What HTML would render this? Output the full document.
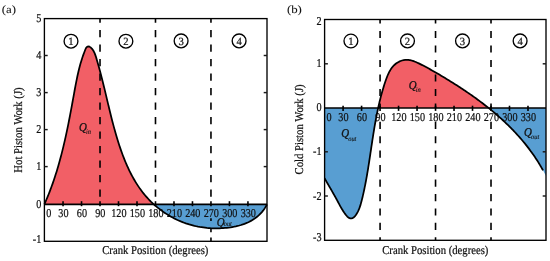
<!DOCTYPE html>
<html><head><meta charset="utf-8"><title>Piston work vs crank position</title>
<style>
html,body{margin:0;padding:0;background:#fff}
svg{display:block}
text{font-family:"Liberation Serif","Times New Roman",serif;fill:#111;stroke:#111;stroke-width:0.22px;text-rendering:geometricPrecision}
.ttl{stroke-width:0.06px}
.q{font-style:italic;stroke-width:0.32px}
.qs{font-style:italic;stroke-width:0.12px}
</style></head><body>
<svg width="550" height="261" viewBox="0 0 550 261">
<rect width="550" height="261" fill="#fff"/>
<defs><clipPath id="upa"><rect x="44.4" y="0" width="222.60" height="204.3"/></clipPath><clipPath id="dna"><rect x="44.4" y="204.3" width="222.60" height="56.70"/></clipPath></defs>
<polygon points="44.40,204.3 44.40,204.30 45.14,202.63 45.86,200.96 46.57,199.28 47.27,197.61 47.96,195.93 48.64,194.24 49.30,192.56 49.95,190.87 50.59,189.18 51.22,187.49 51.84,185.79 52.45,184.09 53.05,182.39 53.63,180.69 54.21,178.98 54.78,177.27 55.33,175.56 55.88,173.85 56.42,172.14 56.95,170.42 57.46,168.70 57.98,166.98 58.48,165.25 58.97,163.53 59.46,161.80 59.93,160.07 60.40,158.34 60.87,156.60 61.32,154.87 61.77,153.13 62.21,151.39 62.64,149.64 63.07,147.90 63.49,146.15 63.90,144.41 64.31,142.66 64.72,140.91 65.11,139.15 65.51,137.40 65.89,135.64 66.27,133.88 66.65,132.13 67.02,130.36 67.39,128.60 67.75,126.84 68.11,125.07 68.47,123.30 68.82,121.54 69.17,119.77 69.52,117.99 69.86,116.22 70.20,114.45 70.54,112.67 70.87,110.90 71.21,109.12 71.54,107.34 71.87,105.56 72.20,103.78 72.52,102.00 72.85,100.21 73.17,98.43 73.50,96.64 73.82,94.86 74.14,93.07 74.47,91.28 74.79,89.50 75.12,87.71 75.46,85.92 75.79,84.14 76.14,82.36 76.49,80.58 76.85,78.81 77.22,77.04 77.60,75.28 78.00,73.52 78.40,71.76 78.82,70.01 79.25,68.27 79.71,66.54 80.17,64.82 80.66,63.10 81.16,61.39 81.69,59.70 82.24,58.01 82.81,56.32 83.40,54.63 84.02,52.94 84.67,51.22 85.34,49.49 86.09,47.79 87.36,46.55 89.08,46.40 90.59,47.38 91.87,48.64 92.95,50.05 93.85,51.57 94.62,53.19 95.28,54.88 95.87,56.61 96.41,58.37 96.93,60.13 97.45,61.89 97.96,63.65 98.46,65.41 98.95,67.17 99.43,68.92 99.90,70.68 100.37,72.43 100.83,74.18 101.28,75.93 101.73,77.68 102.18,79.43 102.61,81.18 103.05,82.93 103.48,84.68 103.90,86.42 104.33,88.16 104.75,89.91 105.16,91.65 105.58,93.39 106.00,95.13 106.41,96.87 106.82,98.61 107.23,100.35 107.65,102.09 108.06,103.83 108.48,105.57 108.89,107.30 109.31,109.04 109.73,110.78 110.16,112.51 110.59,114.25 111.02,115.98 111.45,117.71 111.89,119.45 112.34,121.18 112.79,122.91 113.25,124.64 113.71,126.38 114.18,128.11 114.66,129.84 115.14,131.57 115.63,133.30 116.14,135.03 116.65,136.77 117.17,138.50 117.70,140.23 118.24,141.96 118.79,143.69 119.35,145.42 119.92,147.14 120.51,148.87 121.11,150.59 121.72,152.30 122.34,154.02 122.98,155.72 123.64,157.43 124.31,159.12 124.99,160.81 125.69,162.49 126.40,164.16 127.14,165.83 127.89,167.48 128.65,169.13 129.44,170.76 130.24,172.39 131.06,174.00 131.91,175.60 132.77,177.18 133.65,178.76 134.55,180.31 135.48,181.86 136.42,183.39 137.39,184.90 138.38,186.39 139.39,187.87 140.43,189.33 141.49,190.77 142.58,192.20 143.69,193.60 144.82,194.98 145.98,196.34 147.17,197.68 148.39,199.00 149.63,200.30 150.89,201.57 152.19,202.82 153.50,204.04 154.85,205.24 156.21,206.42 157.60,207.56 159.02,208.69 160.45,209.78 161.90,210.85 163.38,211.89 164.88,212.91 166.39,213.89 167.92,214.85 169.48,215.78 171.05,216.68 172.63,217.54 174.23,218.38 175.85,219.18 177.48,219.96 179.13,220.70 180.79,221.41 182.46,222.08 184.14,222.72 185.84,223.33 187.55,223.90 189.26,224.44 190.99,224.94 192.73,225.41 194.47,225.85 196.22,226.24 197.98,226.61 199.75,226.94 201.53,227.23 203.31,227.49 205.09,227.71 206.88,227.91 208.68,228.06 210.48,228.19 212.29,228.28 214.10,228.33 215.91,228.36 217.72,228.34 219.54,228.30 221.36,228.22 223.18,228.11 225.00,227.97 226.82,227.79 228.64,227.58 230.45,227.33 232.25,227.04 234.05,226.72 235.83,226.35 237.60,225.94 239.35,225.48 241.08,224.98 242.78,224.42 244.47,223.82 246.13,223.17 247.75,222.46 249.35,221.70 250.91,220.88 252.44,220.00 253.92,219.06 255.37,218.06 256.77,217.00 258.12,215.87 259.43,214.68 260.68,213.41 261.88,212.08 263.03,210.68 264.12,209.20 265.14,207.64 266.10,206.01 267.00,204.30 267.00,204.3" fill="#f25f66" clip-path="url(#upa)"/>
<polygon points="44.40,204.3 44.40,204.30 45.14,202.63 45.86,200.96 46.57,199.28 47.27,197.61 47.96,195.93 48.64,194.24 49.30,192.56 49.95,190.87 50.59,189.18 51.22,187.49 51.84,185.79 52.45,184.09 53.05,182.39 53.63,180.69 54.21,178.98 54.78,177.27 55.33,175.56 55.88,173.85 56.42,172.14 56.95,170.42 57.46,168.70 57.98,166.98 58.48,165.25 58.97,163.53 59.46,161.80 59.93,160.07 60.40,158.34 60.87,156.60 61.32,154.87 61.77,153.13 62.21,151.39 62.64,149.64 63.07,147.90 63.49,146.15 63.90,144.41 64.31,142.66 64.72,140.91 65.11,139.15 65.51,137.40 65.89,135.64 66.27,133.88 66.65,132.13 67.02,130.36 67.39,128.60 67.75,126.84 68.11,125.07 68.47,123.30 68.82,121.54 69.17,119.77 69.52,117.99 69.86,116.22 70.20,114.45 70.54,112.67 70.87,110.90 71.21,109.12 71.54,107.34 71.87,105.56 72.20,103.78 72.52,102.00 72.85,100.21 73.17,98.43 73.50,96.64 73.82,94.86 74.14,93.07 74.47,91.28 74.79,89.50 75.12,87.71 75.46,85.92 75.79,84.14 76.14,82.36 76.49,80.58 76.85,78.81 77.22,77.04 77.60,75.28 78.00,73.52 78.40,71.76 78.82,70.01 79.25,68.27 79.71,66.54 80.17,64.82 80.66,63.10 81.16,61.39 81.69,59.70 82.24,58.01 82.81,56.32 83.40,54.63 84.02,52.94 84.67,51.22 85.34,49.49 86.09,47.79 87.36,46.55 89.08,46.40 90.59,47.38 91.87,48.64 92.95,50.05 93.85,51.57 94.62,53.19 95.28,54.88 95.87,56.61 96.41,58.37 96.93,60.13 97.45,61.89 97.96,63.65 98.46,65.41 98.95,67.17 99.43,68.92 99.90,70.68 100.37,72.43 100.83,74.18 101.28,75.93 101.73,77.68 102.18,79.43 102.61,81.18 103.05,82.93 103.48,84.68 103.90,86.42 104.33,88.16 104.75,89.91 105.16,91.65 105.58,93.39 106.00,95.13 106.41,96.87 106.82,98.61 107.23,100.35 107.65,102.09 108.06,103.83 108.48,105.57 108.89,107.30 109.31,109.04 109.73,110.78 110.16,112.51 110.59,114.25 111.02,115.98 111.45,117.71 111.89,119.45 112.34,121.18 112.79,122.91 113.25,124.64 113.71,126.38 114.18,128.11 114.66,129.84 115.14,131.57 115.63,133.30 116.14,135.03 116.65,136.77 117.17,138.50 117.70,140.23 118.24,141.96 118.79,143.69 119.35,145.42 119.92,147.14 120.51,148.87 121.11,150.59 121.72,152.30 122.34,154.02 122.98,155.72 123.64,157.43 124.31,159.12 124.99,160.81 125.69,162.49 126.40,164.16 127.14,165.83 127.89,167.48 128.65,169.13 129.44,170.76 130.24,172.39 131.06,174.00 131.91,175.60 132.77,177.18 133.65,178.76 134.55,180.31 135.48,181.86 136.42,183.39 137.39,184.90 138.38,186.39 139.39,187.87 140.43,189.33 141.49,190.77 142.58,192.20 143.69,193.60 144.82,194.98 145.98,196.34 147.17,197.68 148.39,199.00 149.63,200.30 150.89,201.57 152.19,202.82 153.50,204.04 154.85,205.24 156.21,206.42 157.60,207.56 159.02,208.69 160.45,209.78 161.90,210.85 163.38,211.89 164.88,212.91 166.39,213.89 167.92,214.85 169.48,215.78 171.05,216.68 172.63,217.54 174.23,218.38 175.85,219.18 177.48,219.96 179.13,220.70 180.79,221.41 182.46,222.08 184.14,222.72 185.84,223.33 187.55,223.90 189.26,224.44 190.99,224.94 192.73,225.41 194.47,225.85 196.22,226.24 197.98,226.61 199.75,226.94 201.53,227.23 203.31,227.49 205.09,227.71 206.88,227.91 208.68,228.06 210.48,228.19 212.29,228.28 214.10,228.33 215.91,228.36 217.72,228.34 219.54,228.30 221.36,228.22 223.18,228.11 225.00,227.97 226.82,227.79 228.64,227.58 230.45,227.33 232.25,227.04 234.05,226.72 235.83,226.35 237.60,225.94 239.35,225.48 241.08,224.98 242.78,224.42 244.47,223.82 246.13,223.17 247.75,222.46 249.35,221.70 250.91,220.88 252.44,220.00 253.92,219.06 255.37,218.06 256.77,217.00 258.12,215.87 259.43,214.68 260.68,213.41 261.88,212.08 263.03,210.68 264.12,209.20 265.14,207.64 266.10,206.01 267.00,204.30 267.00,204.3" fill="#589ed2" clip-path="url(#dna)"/>
<line x1="100.02" y1="18.6" x2="100.02" y2="204.3" stroke="#000" stroke-width="1.6" stroke-dasharray="7.2 7.3" stroke-dashoffset="3.0"/>
<line x1="155.49" y1="18.6" x2="155.49" y2="204.3" stroke="#000" stroke-width="1.6" stroke-dasharray="7.2 7.3" stroke-dashoffset="3.0"/>
<line x1="210.96" y1="18.6" x2="210.96" y2="204.3" stroke="#000" stroke-width="1.6" stroke-dasharray="7.2 7.3" stroke-dashoffset="3.0"/>
<line x1="210.96" y1="218.3" x2="210.96" y2="221.1" stroke="#000" stroke-width="1.6"/>
<line x1="210.96" y1="228.3" x2="210.96" y2="232.2" stroke="#000" stroke-width="1.6"/>
<line x1="210.96" y1="237.4" x2="210.96" y2="241.3" stroke="#000" stroke-width="1.6"/>
<line x1="44.4" y1="204.3" x2="267.0" y2="204.3" stroke="#000" stroke-width="1.7"/>
<text transform="translate(46.30,216.90) scale(0.85,1)" font-size="12.0">0</text>
<line x1="63.04" y1="206.20" x2="63.04" y2="201.20" stroke="#000" stroke-width="1.6"/>
<text transform="translate(63.39,216.90) scale(0.85,1)" font-size="12.0" text-anchor="middle">30</text>
<line x1="81.53" y1="206.20" x2="81.53" y2="201.20" stroke="#000" stroke-width="1.6"/>
<text transform="translate(81.88,216.90) scale(0.85,1)" font-size="12.0" text-anchor="middle">60</text>
<line x1="100.02" y1="206.20" x2="100.02" y2="201.20" stroke="#000" stroke-width="1.6"/>
<text transform="translate(100.37,216.90) scale(0.85,1)" font-size="12.0" text-anchor="middle">90</text>
<line x1="118.51" y1="206.20" x2="118.51" y2="201.20" stroke="#000" stroke-width="1.6"/>
<text transform="translate(118.86,216.90) scale(0.85,1)" font-size="12.0" text-anchor="middle">120</text>
<line x1="137.00" y1="206.20" x2="137.00" y2="201.20" stroke="#000" stroke-width="1.6"/>
<text transform="translate(137.35,216.90) scale(0.85,1)" font-size="12.0" text-anchor="middle">150</text>
<line x1="155.49" y1="206.20" x2="155.49" y2="201.20" stroke="#000" stroke-width="1.6"/>
<text transform="translate(155.84,216.90) scale(0.85,1)" font-size="12.0" text-anchor="middle">180</text>
<line x1="173.98" y1="206.20" x2="173.98" y2="201.20" stroke="#000" stroke-width="1.6"/>
<text transform="translate(174.33,216.90) scale(0.85,1)" font-size="12.0" text-anchor="middle">210</text>
<line x1="192.47" y1="206.20" x2="192.47" y2="201.20" stroke="#000" stroke-width="1.6"/>
<text transform="translate(192.82,216.90) scale(0.85,1)" font-size="12.0" text-anchor="middle">240</text>
<line x1="210.96" y1="206.20" x2="210.96" y2="201.20" stroke="#000" stroke-width="1.6"/>
<text transform="translate(211.31,216.90) scale(0.85,1)" font-size="12.0" text-anchor="middle">270</text>
<line x1="229.45" y1="206.20" x2="229.45" y2="201.20" stroke="#000" stroke-width="1.6"/>
<text transform="translate(229.80,216.90) scale(0.85,1)" font-size="12.0" text-anchor="middle">300</text>
<line x1="247.94" y1="206.20" x2="247.94" y2="201.20" stroke="#000" stroke-width="1.6"/>
<text transform="translate(248.29,216.90) scale(0.85,1)" font-size="12.0" text-anchor="middle">330</text>
<polyline points="44.40,204.30 45.14,202.63 45.86,200.96 46.57,199.28 47.27,197.61 47.96,195.93 48.64,194.24 49.30,192.56 49.95,190.87 50.59,189.18 51.22,187.49 51.84,185.79 52.45,184.09 53.05,182.39 53.63,180.69 54.21,178.98 54.78,177.27 55.33,175.56 55.88,173.85 56.42,172.14 56.95,170.42 57.46,168.70 57.98,166.98 58.48,165.25 58.97,163.53 59.46,161.80 59.93,160.07 60.40,158.34 60.87,156.60 61.32,154.87 61.77,153.13 62.21,151.39 62.64,149.64 63.07,147.90 63.49,146.15 63.90,144.41 64.31,142.66 64.72,140.91 65.11,139.15 65.51,137.40 65.89,135.64 66.27,133.88 66.65,132.13 67.02,130.36 67.39,128.60 67.75,126.84 68.11,125.07 68.47,123.30 68.82,121.54 69.17,119.77 69.52,117.99 69.86,116.22 70.20,114.45 70.54,112.67 70.87,110.90 71.21,109.12 71.54,107.34 71.87,105.56 72.20,103.78 72.52,102.00 72.85,100.21 73.17,98.43 73.50,96.64 73.82,94.86 74.14,93.07 74.47,91.28 74.79,89.50 75.12,87.71 75.46,85.92 75.79,84.14 76.14,82.36 76.49,80.58 76.85,78.81 77.22,77.04 77.60,75.28 78.00,73.52 78.40,71.76 78.82,70.01 79.25,68.27 79.71,66.54 80.17,64.82 80.66,63.10 81.16,61.39 81.69,59.70 82.24,58.01 82.81,56.32 83.40,54.63 84.02,52.94 84.67,51.22 85.34,49.49 86.09,47.79 87.36,46.55 89.08,46.40 90.59,47.38 91.87,48.64 92.95,50.05 93.85,51.57 94.62,53.19 95.28,54.88 95.87,56.61 96.41,58.37 96.93,60.13 97.45,61.89 97.96,63.65 98.46,65.41 98.95,67.17 99.43,68.92 99.90,70.68 100.37,72.43 100.83,74.18 101.28,75.93 101.73,77.68 102.18,79.43 102.61,81.18 103.05,82.93 103.48,84.68 103.90,86.42 104.33,88.16 104.75,89.91 105.16,91.65 105.58,93.39 106.00,95.13 106.41,96.87 106.82,98.61 107.23,100.35 107.65,102.09 108.06,103.83 108.48,105.57 108.89,107.30 109.31,109.04 109.73,110.78 110.16,112.51 110.59,114.25 111.02,115.98 111.45,117.71 111.89,119.45 112.34,121.18 112.79,122.91 113.25,124.64 113.71,126.38 114.18,128.11 114.66,129.84 115.14,131.57 115.63,133.30 116.14,135.03 116.65,136.77 117.17,138.50 117.70,140.23 118.24,141.96 118.79,143.69 119.35,145.42 119.92,147.14 120.51,148.87 121.11,150.59 121.72,152.30 122.34,154.02 122.98,155.72 123.64,157.43 124.31,159.12 124.99,160.81 125.69,162.49 126.40,164.16 127.14,165.83 127.89,167.48 128.65,169.13 129.44,170.76 130.24,172.39 131.06,174.00 131.91,175.60 132.77,177.18 133.65,178.76 134.55,180.31 135.48,181.86 136.42,183.39 137.39,184.90 138.38,186.39 139.39,187.87 140.43,189.33 141.49,190.77 142.58,192.20 143.69,193.60 144.82,194.98 145.98,196.34 147.17,197.68 148.39,199.00 149.63,200.30 150.89,201.57 152.19,202.82 153.50,204.04 154.85,205.24 156.21,206.42 157.60,207.56 159.02,208.69 160.45,209.78 161.90,210.85 163.38,211.89 164.88,212.91 166.39,213.89 167.92,214.85 169.48,215.78 171.05,216.68 172.63,217.54 174.23,218.38 175.85,219.18 177.48,219.96 179.13,220.70 180.79,221.41 182.46,222.08 184.14,222.72 185.84,223.33 187.55,223.90 189.26,224.44 190.99,224.94 192.73,225.41 194.47,225.85 196.22,226.24 197.98,226.61 199.75,226.94 201.53,227.23 203.31,227.49 205.09,227.71 206.88,227.91 208.68,228.06 210.48,228.19 212.29,228.28 214.10,228.33 215.91,228.36 217.72,228.34 219.54,228.30 221.36,228.22 223.18,228.11 225.00,227.97 226.82,227.79 228.64,227.58 230.45,227.33 232.25,227.04 234.05,226.72 235.83,226.35 237.60,225.94 239.35,225.48 241.08,224.98 242.78,224.42 244.47,223.82 246.13,223.17 247.75,222.46 249.35,221.70 250.91,220.88 252.44,220.00 253.92,219.06 255.37,218.06 256.77,217.00 258.12,215.87 259.43,214.68 260.68,213.41 261.88,212.08 263.03,210.68 264.12,209.20 265.14,207.64 266.10,206.01 267.00,204.30" fill="none" stroke="#000" stroke-width="1.75" stroke-linejoin="round"/>
<rect x="44.4" y="18.6" width="222.60" height="222.70" fill="none" stroke="#000" stroke-width="1.35"/>
<text transform="translate(41.30,21.55) scale(0.85,1)" font-size="12.0" text-anchor="end">5</text>
<line x1="44.4" y1="55.5" x2="47.70" y2="55.5" stroke="#1a1a1a" stroke-width="1.45"/>
<line x1="267.0" y1="55.5" x2="263.70" y2="55.5" stroke="#1a1a1a" stroke-width="1.45"/>
<text transform="translate(41.30,59.05) scale(0.85,1)" font-size="12.0" text-anchor="end">4</text>
<line x1="44.4" y1="92.6" x2="47.70" y2="92.6" stroke="#1a1a1a" stroke-width="1.45"/>
<line x1="267.0" y1="92.6" x2="263.70" y2="92.6" stroke="#1a1a1a" stroke-width="1.45"/>
<text transform="translate(41.30,96.15) scale(0.85,1)" font-size="12.0" text-anchor="end">3</text>
<line x1="44.4" y1="129.6" x2="47.70" y2="129.6" stroke="#1a1a1a" stroke-width="1.45"/>
<line x1="267.0" y1="129.6" x2="263.70" y2="129.6" stroke="#1a1a1a" stroke-width="1.45"/>
<text transform="translate(41.30,133.15) scale(0.85,1)" font-size="12.0" text-anchor="end">2</text>
<line x1="44.4" y1="166.6" x2="47.70" y2="166.6" stroke="#1a1a1a" stroke-width="1.45"/>
<line x1="267.0" y1="166.6" x2="263.70" y2="166.6" stroke="#1a1a1a" stroke-width="1.45"/>
<text transform="translate(41.30,170.15) scale(0.85,1)" font-size="12.0" text-anchor="end">1</text>
<text transform="translate(41.30,207.85) scale(0.85,1)" font-size="12.0" text-anchor="end">0</text>
<text transform="translate(41.30,242.85) scale(0.85,1)" font-size="12.0" text-anchor="end">-1</text>
<circle cx="71" cy="41.2" r="6.9" fill="#fff" stroke="#000" stroke-width="1.35"/>
<text transform="translate(71.00,44.90) scale(0.97,1)" font-size="11" text-anchor="middle">1</text>
<circle cx="125.9" cy="41.2" r="6.9" fill="#fff" stroke="#000" stroke-width="1.35"/>
<text transform="translate(125.90,44.90) scale(0.97,1)" font-size="11" text-anchor="middle">2</text>
<circle cx="181.1" cy="40.9" r="6.9" fill="#fff" stroke="#000" stroke-width="1.35"/>
<text transform="translate(181.10,44.60) scale(0.97,1)" font-size="11" text-anchor="middle">3</text>
<circle cx="239.1" cy="40.9" r="6.9" fill="#fff" stroke="#000" stroke-width="1.35"/>
<text transform="translate(239.10,44.60) scale(0.97,1)" font-size="11" text-anchor="middle">4</text>
<text class="ttl" transform="translate(1.80,13.00) scale(1.17,1)" font-size="11.0">(a)</text>
<text transform="translate(22.10,130.00) rotate(-90) scale(0.89,1)" font-size="12.0" text-anchor="middle">Hot Piston Work (J)</text>
<text transform="translate(155.30,254.00) scale(0.89,1)" font-size="12.0" text-anchor="middle">Crank Position (degrees)</text>
<text class="q" transform="translate(79.00,130.60) scale(0.9,1)" font-size="12.0">Q<tspan class="qs" font-size="7.1" dx="-0.9" dy="3.3">in</tspan></text>
<text class="q" transform="translate(216.70,225.60) scale(0.9,1)" font-size="12.0">Q<tspan class="qs" font-size="7.1" dx="-0.9" dy="0.3">out</tspan></text>
<defs><clipPath id="upb"><rect x="324.6" y="0" width="221.40" height="108.0"/></clipPath><clipPath id="dnb"><rect x="324.6" y="108.0" width="221.40" height="153.00"/></clipPath></defs>
<polygon points="324.60,108.0 324.60,178.30 325.36,179.64 326.13,181.00 326.91,182.36 327.70,183.74 328.50,185.12 329.30,186.50 330.11,187.89 330.92,189.28 331.72,190.67 332.53,192.07 333.32,193.46 334.11,194.85 334.89,196.24 335.66,197.62 336.42,199.00 337.16,200.37 337.88,201.74 338.60,203.09 339.32,204.45 340.05,205.80 340.80,207.14 341.58,208.49 342.39,209.84 343.25,211.18 344.15,212.53 345.12,213.89 346.15,215.24 347.27,216.55 348.49,217.63 349.86,218.27 351.30,218.41 352.70,218.06 353.97,217.23 355.09,216.03 356.08,214.66 356.97,213.26 357.76,211.82 358.47,210.37 359.11,208.89 359.68,207.40 360.20,205.90 360.67,204.38 361.10,202.85 361.51,201.32 361.89,199.78 362.27,198.24 362.64,196.70 363.00,195.16 363.35,193.62 363.69,192.07 364.03,190.53 364.35,188.98 364.67,187.43 364.99,185.88 365.29,184.33 365.59,182.78 365.89,181.23 366.18,179.68 366.46,178.13 366.73,176.57 367.01,175.02 367.27,173.46 367.54,171.91 367.80,170.35 368.05,168.79 368.30,167.23 368.55,165.67 368.80,164.11 369.04,162.56 369.28,161.00 369.52,159.43 369.75,157.87 369.99,156.31 370.22,154.75 370.45,153.19 370.69,151.63 370.92,150.07 371.15,148.50 371.38,146.94 371.62,145.38 371.85,143.82 372.09,142.25 372.32,140.69 372.56,139.13 372.80,137.57 373.04,136.01 373.29,134.44 373.54,132.88 373.79,131.32 374.04,129.76 374.30,128.20 374.56,126.64 374.83,125.08 375.10,123.52 375.38,121.97 375.66,120.41 375.95,118.85 376.24,117.30 376.54,115.74 376.85,114.19 377.16,112.63 377.48,111.08 377.81,109.53 378.14,107.97 378.48,106.42 378.83,104.87 379.19,103.33 379.56,101.78 379.94,100.23 380.32,98.69 380.72,97.14 381.12,95.60 381.54,94.06 381.97,92.52 382.40,90.98 382.85,89.44 383.31,87.90 383.78,86.37 384.27,84.84 384.76,83.30 385.27,81.77 385.79,80.25 386.33,78.73 386.90,77.22 387.49,75.73 388.12,74.27 388.80,72.84 389.52,71.45 390.29,70.10 391.13,68.80 392.02,67.56 393.00,66.38 394.04,65.27 395.18,64.24 396.40,63.28 397.71,62.42 399.11,61.65 400.57,61.00 402.08,60.48 403.62,60.11 405.16,59.89 406.71,59.84 408.25,59.93 409.78,60.15 411.31,60.48 412.83,60.92 414.34,61.45 415.85,62.05 417.34,62.70 418.82,63.39 420.29,64.12 421.75,64.85 423.19,65.59 424.61,66.33 426.03,67.08 427.43,67.84 428.83,68.60 430.22,69.37 431.59,70.14 432.96,70.91 434.33,71.69 435.69,72.48 437.04,73.27 438.40,74.06 439.75,74.86 441.10,75.66 442.45,76.46 443.79,77.27 445.14,78.09 446.49,78.90 447.83,79.73 449.17,80.55 450.52,81.38 451.86,82.22 453.19,83.05 454.53,83.90 455.86,84.75 457.20,85.60 458.53,86.46 459.85,87.32 461.18,88.19 462.50,89.06 463.82,89.94 465.13,90.82 466.45,91.71 467.76,92.60 469.06,93.50 470.37,94.40 471.67,95.31 472.96,96.23 474.25,97.15 475.54,98.07 476.83,99.00 478.10,99.94 479.38,100.88 480.65,101.83 481.92,102.79 483.18,103.75 484.44,104.72 485.69,105.69 486.94,106.67 488.18,107.66 489.41,108.65 490.64,109.65 491.87,110.66 493.09,111.67 494.30,112.69 495.51,113.72 496.71,114.75 497.91,115.79 499.10,116.84 500.28,117.89 501.46,118.95 502.63,120.02 503.79,121.09 504.95,122.18 506.09,123.27 507.24,124.36 508.37,125.47 509.50,126.58 510.61,127.70 511.72,128.82 512.83,129.96 513.92,131.10 515.01,132.25 516.08,133.40 517.15,134.57 518.21,135.74 519.27,136.92 520.31,138.10 521.34,139.30 522.37,140.50 523.38,141.71 524.39,142.93 525.38,144.15 526.37,145.39 527.34,146.63 528.31,147.88 529.26,149.13 530.21,150.40 531.14,151.67 532.07,152.95 532.98,154.24 533.88,155.54 534.77,156.84 535.65,158.16 536.52,159.48 537.38,160.81 538.22,162.15 539.05,163.50 539.88,164.85 540.68,166.21 541.48,167.59 542.27,168.97 543.04,170.36 543.80,171.76 544.54,173.16 545.28,174.58 546.00,176.00 546.00,108.0" fill="#f25f66" clip-path="url(#upb)"/>
<polygon points="324.60,108.0 324.60,178.30 325.36,179.64 326.13,181.00 326.91,182.36 327.70,183.74 328.50,185.12 329.30,186.50 330.11,187.89 330.92,189.28 331.72,190.67 332.53,192.07 333.32,193.46 334.11,194.85 334.89,196.24 335.66,197.62 336.42,199.00 337.16,200.37 337.88,201.74 338.60,203.09 339.32,204.45 340.05,205.80 340.80,207.14 341.58,208.49 342.39,209.84 343.25,211.18 344.15,212.53 345.12,213.89 346.15,215.24 347.27,216.55 348.49,217.63 349.86,218.27 351.30,218.41 352.70,218.06 353.97,217.23 355.09,216.03 356.08,214.66 356.97,213.26 357.76,211.82 358.47,210.37 359.11,208.89 359.68,207.40 360.20,205.90 360.67,204.38 361.10,202.85 361.51,201.32 361.89,199.78 362.27,198.24 362.64,196.70 363.00,195.16 363.35,193.62 363.69,192.07 364.03,190.53 364.35,188.98 364.67,187.43 364.99,185.88 365.29,184.33 365.59,182.78 365.89,181.23 366.18,179.68 366.46,178.13 366.73,176.57 367.01,175.02 367.27,173.46 367.54,171.91 367.80,170.35 368.05,168.79 368.30,167.23 368.55,165.67 368.80,164.11 369.04,162.56 369.28,161.00 369.52,159.43 369.75,157.87 369.99,156.31 370.22,154.75 370.45,153.19 370.69,151.63 370.92,150.07 371.15,148.50 371.38,146.94 371.62,145.38 371.85,143.82 372.09,142.25 372.32,140.69 372.56,139.13 372.80,137.57 373.04,136.01 373.29,134.44 373.54,132.88 373.79,131.32 374.04,129.76 374.30,128.20 374.56,126.64 374.83,125.08 375.10,123.52 375.38,121.97 375.66,120.41 375.95,118.85 376.24,117.30 376.54,115.74 376.85,114.19 377.16,112.63 377.48,111.08 377.81,109.53 378.14,107.97 378.48,106.42 378.83,104.87 379.19,103.33 379.56,101.78 379.94,100.23 380.32,98.69 380.72,97.14 381.12,95.60 381.54,94.06 381.97,92.52 382.40,90.98 382.85,89.44 383.31,87.90 383.78,86.37 384.27,84.84 384.76,83.30 385.27,81.77 385.79,80.25 386.33,78.73 386.90,77.22 387.49,75.73 388.12,74.27 388.80,72.84 389.52,71.45 390.29,70.10 391.13,68.80 392.02,67.56 393.00,66.38 394.04,65.27 395.18,64.24 396.40,63.28 397.71,62.42 399.11,61.65 400.57,61.00 402.08,60.48 403.62,60.11 405.16,59.89 406.71,59.84 408.25,59.93 409.78,60.15 411.31,60.48 412.83,60.92 414.34,61.45 415.85,62.05 417.34,62.70 418.82,63.39 420.29,64.12 421.75,64.85 423.19,65.59 424.61,66.33 426.03,67.08 427.43,67.84 428.83,68.60 430.22,69.37 431.59,70.14 432.96,70.91 434.33,71.69 435.69,72.48 437.04,73.27 438.40,74.06 439.75,74.86 441.10,75.66 442.45,76.46 443.79,77.27 445.14,78.09 446.49,78.90 447.83,79.73 449.17,80.55 450.52,81.38 451.86,82.22 453.19,83.05 454.53,83.90 455.86,84.75 457.20,85.60 458.53,86.46 459.85,87.32 461.18,88.19 462.50,89.06 463.82,89.94 465.13,90.82 466.45,91.71 467.76,92.60 469.06,93.50 470.37,94.40 471.67,95.31 472.96,96.23 474.25,97.15 475.54,98.07 476.83,99.00 478.10,99.94 479.38,100.88 480.65,101.83 481.92,102.79 483.18,103.75 484.44,104.72 485.69,105.69 486.94,106.67 488.18,107.66 489.41,108.65 490.64,109.65 491.87,110.66 493.09,111.67 494.30,112.69 495.51,113.72 496.71,114.75 497.91,115.79 499.10,116.84 500.28,117.89 501.46,118.95 502.63,120.02 503.79,121.09 504.95,122.18 506.09,123.27 507.24,124.36 508.37,125.47 509.50,126.58 510.61,127.70 511.72,128.82 512.83,129.96 513.92,131.10 515.01,132.25 516.08,133.40 517.15,134.57 518.21,135.74 519.27,136.92 520.31,138.10 521.34,139.30 522.37,140.50 523.38,141.71 524.39,142.93 525.38,144.15 526.37,145.39 527.34,146.63 528.31,147.88 529.26,149.13 530.21,150.40 531.14,151.67 532.07,152.95 532.98,154.24 533.88,155.54 534.77,156.84 535.65,158.16 536.52,159.48 537.38,160.81 538.22,162.15 539.05,163.50 539.88,164.85 540.68,166.21 541.48,167.59 542.27,168.97 543.04,170.36 543.80,171.76 544.54,173.16 545.28,174.58 546.00,176.00 546.00,108.0" fill="#589ed2" clip-path="url(#dnb)"/>
<line x1="380.07" y1="19.5" x2="380.07" y2="108.0" stroke="#000" stroke-width="1.6" stroke-dasharray="7.2 7.3" stroke-dashoffset="3.1"/>
<line x1="380.07" y1="121.70" x2="380.07" y2="240.3" stroke="#000" stroke-width="1.6" stroke-dasharray="7.2 7.25"/>
<line x1="435.54" y1="19.5" x2="435.54" y2="108.0" stroke="#000" stroke-width="1.6" stroke-dasharray="7.2 7.3" stroke-dashoffset="3.1"/>
<line x1="435.54" y1="121.70" x2="435.54" y2="240.3" stroke="#000" stroke-width="1.6" stroke-dasharray="7.2 7.25"/>
<line x1="491.01" y1="19.5" x2="491.01" y2="108.0" stroke="#000" stroke-width="1.6" stroke-dasharray="7.2 7.3" stroke-dashoffset="3.1"/>
<line x1="491.01" y1="121.70" x2="491.01" y2="240.3" stroke="#000" stroke-width="1.6" stroke-dasharray="7.2 7.25"/>
<line x1="324.6" y1="108.0" x2="546.0" y2="108.0" stroke="#000" stroke-width="1.7"/>
<text transform="translate(326.50,120.60) scale(0.85,1)" font-size="12.0">0</text>
<line x1="343.09" y1="110.90" x2="343.09" y2="105.70" stroke="#000" stroke-width="1.6"/>
<text transform="translate(343.44,120.60) scale(0.85,1)" font-size="12.0" text-anchor="middle">30</text>
<line x1="361.58" y1="110.90" x2="361.58" y2="105.70" stroke="#000" stroke-width="1.6"/>
<text transform="translate(361.93,120.60) scale(0.85,1)" font-size="12.0" text-anchor="middle">60</text>
<line x1="380.07" y1="110.90" x2="380.07" y2="105.70" stroke="#000" stroke-width="1.6"/>
<text transform="translate(380.42,120.60) scale(0.85,1)" font-size="12.0" text-anchor="middle">90</text>
<line x1="398.56" y1="110.90" x2="398.56" y2="105.70" stroke="#000" stroke-width="1.6"/>
<text transform="translate(398.91,120.60) scale(0.85,1)" font-size="12.0" text-anchor="middle">120</text>
<line x1="417.05" y1="110.90" x2="417.05" y2="105.70" stroke="#000" stroke-width="1.6"/>
<text transform="translate(417.40,120.60) scale(0.85,1)" font-size="12.0" text-anchor="middle">150</text>
<line x1="435.54" y1="110.90" x2="435.54" y2="105.70" stroke="#000" stroke-width="1.6"/>
<text transform="translate(435.89,120.60) scale(0.85,1)" font-size="12.0" text-anchor="middle">180</text>
<line x1="454.03" y1="110.90" x2="454.03" y2="105.70" stroke="#000" stroke-width="1.6"/>
<text transform="translate(454.38,120.60) scale(0.85,1)" font-size="12.0" text-anchor="middle">210</text>
<line x1="472.52" y1="110.90" x2="472.52" y2="105.70" stroke="#000" stroke-width="1.6"/>
<text transform="translate(472.87,120.60) scale(0.85,1)" font-size="12.0" text-anchor="middle">240</text>
<line x1="491.01" y1="110.90" x2="491.01" y2="105.70" stroke="#000" stroke-width="1.6"/>
<text transform="translate(491.36,120.60) scale(0.85,1)" font-size="12.0" text-anchor="middle">270</text>
<line x1="509.50" y1="110.90" x2="509.50" y2="105.70" stroke="#000" stroke-width="1.6"/>
<text transform="translate(509.85,120.60) scale(0.85,1)" font-size="12.0" text-anchor="middle">300</text>
<line x1="527.99" y1="110.90" x2="527.99" y2="105.70" stroke="#000" stroke-width="1.6"/>
<text transform="translate(528.34,120.60) scale(0.85,1)" font-size="12.0" text-anchor="middle">330</text>
<polyline points="324.60,178.30 325.36,179.64 326.13,181.00 326.91,182.36 327.70,183.74 328.50,185.12 329.30,186.50 330.11,187.89 330.92,189.28 331.72,190.67 332.53,192.07 333.32,193.46 334.11,194.85 334.89,196.24 335.66,197.62 336.42,199.00 337.16,200.37 337.88,201.74 338.60,203.09 339.32,204.45 340.05,205.80 340.80,207.14 341.58,208.49 342.39,209.84 343.25,211.18 344.15,212.53 345.12,213.89 346.15,215.24 347.27,216.55 348.49,217.63 349.86,218.27 351.30,218.41 352.70,218.06 353.97,217.23 355.09,216.03 356.08,214.66 356.97,213.26 357.76,211.82 358.47,210.37 359.11,208.89 359.68,207.40 360.20,205.90 360.67,204.38 361.10,202.85 361.51,201.32 361.89,199.78 362.27,198.24 362.64,196.70 363.00,195.16 363.35,193.62 363.69,192.07 364.03,190.53 364.35,188.98 364.67,187.43 364.99,185.88 365.29,184.33 365.59,182.78 365.89,181.23 366.18,179.68 366.46,178.13 366.73,176.57 367.01,175.02 367.27,173.46 367.54,171.91 367.80,170.35 368.05,168.79 368.30,167.23 368.55,165.67 368.80,164.11 369.04,162.56 369.28,161.00 369.52,159.43 369.75,157.87 369.99,156.31 370.22,154.75 370.45,153.19 370.69,151.63 370.92,150.07 371.15,148.50 371.38,146.94 371.62,145.38 371.85,143.82 372.09,142.25 372.32,140.69 372.56,139.13 372.80,137.57 373.04,136.01 373.29,134.44 373.54,132.88 373.79,131.32 374.04,129.76 374.30,128.20 374.56,126.64 374.83,125.08 375.10,123.52 375.38,121.97 375.66,120.41 375.95,118.85 376.24,117.30 376.54,115.74 376.85,114.19 377.16,112.63 377.48,111.08 377.81,109.53 378.14,107.97 378.48,106.42 378.83,104.87 379.19,103.33 379.56,101.78 379.94,100.23 380.32,98.69 380.72,97.14 381.12,95.60 381.54,94.06 381.97,92.52 382.40,90.98 382.85,89.44 383.31,87.90 383.78,86.37 384.27,84.84 384.76,83.30 385.27,81.77 385.79,80.25 386.33,78.73 386.90,77.22 387.49,75.73 388.12,74.27 388.80,72.84 389.52,71.45 390.29,70.10 391.13,68.80 392.02,67.56 393.00,66.38 394.04,65.27 395.18,64.24 396.40,63.28 397.71,62.42 399.11,61.65 400.57,61.00 402.08,60.48 403.62,60.11 405.16,59.89 406.71,59.84 408.25,59.93 409.78,60.15 411.31,60.48 412.83,60.92 414.34,61.45 415.85,62.05 417.34,62.70 418.82,63.39 420.29,64.12 421.75,64.85 423.19,65.59 424.61,66.33 426.03,67.08 427.43,67.84 428.83,68.60 430.22,69.37 431.59,70.14 432.96,70.91 434.33,71.69 435.69,72.48 437.04,73.27 438.40,74.06 439.75,74.86 441.10,75.66 442.45,76.46 443.79,77.27 445.14,78.09 446.49,78.90 447.83,79.73 449.17,80.55 450.52,81.38 451.86,82.22 453.19,83.05 454.53,83.90 455.86,84.75 457.20,85.60 458.53,86.46 459.85,87.32 461.18,88.19 462.50,89.06 463.82,89.94 465.13,90.82 466.45,91.71 467.76,92.60 469.06,93.50 470.37,94.40 471.67,95.31 472.96,96.23 474.25,97.15 475.54,98.07 476.83,99.00 478.10,99.94 479.38,100.88 480.65,101.83 481.92,102.79 483.18,103.75 484.44,104.72 485.69,105.69 486.94,106.67 488.18,107.66 489.41,108.65 490.64,109.65 491.87,110.66 493.09,111.67 494.30,112.69 495.51,113.72 496.71,114.75 497.91,115.79 499.10,116.84 500.28,117.89 501.46,118.95 502.63,120.02 503.79,121.09 504.95,122.18 506.09,123.27 507.24,124.36 508.37,125.47 509.50,126.58 510.61,127.70 511.72,128.82 512.83,129.96 513.92,131.10 515.01,132.25 516.08,133.40 517.15,134.57 518.21,135.74 519.27,136.92 520.31,138.10 521.34,139.30 522.37,140.50 523.38,141.71 524.39,142.93 525.38,144.15 526.37,145.39 527.34,146.63 528.31,147.88 529.26,149.13 530.21,150.40 531.14,151.67 532.07,152.95 532.98,154.24 533.88,155.54 534.77,156.84 535.65,158.16 536.52,159.48 537.38,160.81 538.22,162.15 539.05,163.50 539.88,164.85 540.68,166.21 541.48,167.59 542.27,168.97 543.04,170.36" fill="none" stroke="#000" stroke-width="1.75" stroke-linejoin="round"/>
<rect x="324.6" y="19.5" width="221.40" height="220.80" fill="none" stroke="#000" stroke-width="1.35"/>
<text transform="translate(321.50,25.05) scale(0.85,1)" font-size="12.0" text-anchor="end">2</text>
<line x1="324.6" y1="63.8" x2="327.90" y2="63.8" stroke="#1a1a1a" stroke-width="1.45"/>
<line x1="546.0" y1="63.8" x2="542.70" y2="63.8" stroke="#1a1a1a" stroke-width="1.45"/>
<text transform="translate(321.50,67.35) scale(0.85,1)" font-size="12.0" text-anchor="end">1</text>
<text transform="translate(321.50,111.45) scale(0.85,1)" font-size="12.0" text-anchor="end">0</text>
<line x1="324.6" y1="151.8" x2="327.90" y2="151.8" stroke="#1a1a1a" stroke-width="1.45"/>
<line x1="546.0" y1="151.8" x2="542.70" y2="151.8" stroke="#1a1a1a" stroke-width="1.45"/>
<text transform="translate(321.50,155.35) scale(0.85,1)" font-size="12.0" text-anchor="end">-1</text>
<line x1="324.6" y1="196" x2="327.90" y2="196" stroke="#1a1a1a" stroke-width="1.45"/>
<line x1="546.0" y1="196" x2="542.70" y2="196" stroke="#1a1a1a" stroke-width="1.45"/>
<text transform="translate(321.50,199.55) scale(0.85,1)" font-size="12.0" text-anchor="end">-2</text>
<text transform="translate(321.50,241.35) scale(0.85,1)" font-size="12.0" text-anchor="end">-3</text>
<circle cx="350.9" cy="41" r="6.9" fill="#fff" stroke="#000" stroke-width="1.35"/>
<text transform="translate(350.90,44.70) scale(0.97,1)" font-size="11" text-anchor="middle">1</text>
<circle cx="407.5" cy="40.9" r="6.9" fill="#fff" stroke="#000" stroke-width="1.35"/>
<text transform="translate(407.50,44.60) scale(0.97,1)" font-size="11" text-anchor="middle">2</text>
<circle cx="462.5" cy="40.9" r="6.9" fill="#fff" stroke="#000" stroke-width="1.35"/>
<text transform="translate(462.50,44.60) scale(0.97,1)" font-size="11" text-anchor="middle">3</text>
<circle cx="520.1" cy="40.9" r="6.9" fill="#fff" stroke="#000" stroke-width="1.35"/>
<text transform="translate(520.10,44.60) scale(0.97,1)" font-size="11" text-anchor="middle">4</text>
<text class="ttl" transform="translate(286.90,13.00) scale(1.17,1)" font-size="11.0">(b)</text>
<text transform="translate(302.70,129.40) rotate(-90) scale(0.89,1)" font-size="12.0" text-anchor="middle">Cold Piston Work (J)</text>
<text transform="translate(435.30,254.00) scale(0.89,1)" font-size="12.0" text-anchor="middle">Crank Position (degrees)</text>
<text class="q" transform="translate(341.20,137.20) scale(0.9,1)" font-size="12.0">Q<tspan class="qs" font-size="7.1" dx="-0.9" dy="3.3">out</tspan></text>
<text class="q" transform="translate(408.80,88.60) scale(0.9,1)" font-size="12.0">Q<tspan class="qs" font-size="7.1" dx="-0.9" dy="3.3">in</tspan></text>
<text class="q" transform="translate(524.10,135.90) scale(0.9,1)" font-size="12.0">Q<tspan class="qs" font-size="7.1" dx="-0.9" dy="3.3">out</tspan></text>
</svg></body></html>
